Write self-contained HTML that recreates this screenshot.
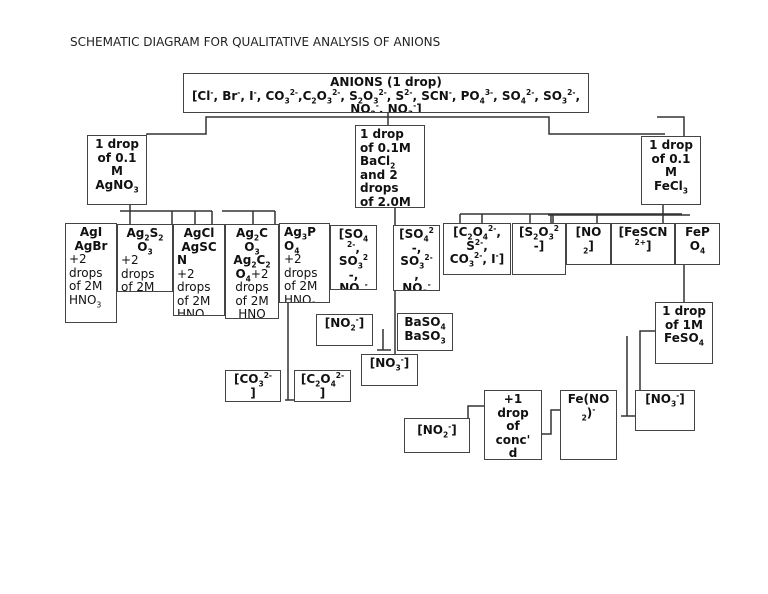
<!DOCTYPE html>
<html><head><meta charset="utf-8"><style>
body{margin:0;width:768px;height:594px;background:#fff;position:relative;overflow:hidden;font-family:"DejaVu Sans","Liberation Sans",sans-serif;}
.b{position:absolute;border:1.5px solid #444;box-sizing:border-box;overflow:hidden;font-size:12px;line-height:13.5px;font-weight:bold;text-align:center;color:#111;padding-top:2px;background:#fff;white-space:nowrap}
.l{text-align:left;padding-left:4px}
.n{font-weight:normal}
sub,sup{font-size:7.5px;line-height:0}
svg{position:absolute;left:0;top:0}
</style></head><body>
<div style="position:absolute;left:70px;top:35px;font-size:12px;color:#222">SCHEMATIC DIAGRAM FOR QUALITATIVE ANALYSIS OF ANIONS</div>
<svg width="768" height="594"><g stroke="#333" stroke-width="1.5" fill="none">
<polyline points="147,135 147,134 206,134 206,117 549,117 549,134 665,134"/>
<polyline points="657,117 684,117 684,136"/>
<line x1="388" y1="113" x2="388" y2="125"/>
<polyline points="130,190 130,224"/>
<line x1="120" y1="211" x2="212" y2="211"/><line x1="172" y1="211" x2="172" y2="224"/><line x1="195" y1="211" x2="195" y2="224"/><line x1="212" y1="211" x2="212" y2="224"/>
<line x1="222" y1="211" x2="275" y2="211"/><line x1="253" y1="211" x2="253" y2="224"/><line x1="275" y1="211" x2="275" y2="224"/>
<line x1="395" y1="208" x2="395" y2="354"/>
<polyline points="663,190 663,223"/>
<line x1="460" y1="214" x2="682" y2="214"/><line x1="460" y1="214" x2="460" y2="223"/><line x1="482" y1="214" x2="482" y2="223"/><line x1="551" y1="214" x2="551" y2="223"/><line x1="597" y1="214" x2="597" y2="223"/><line x1="553" y1="214" x2="553" y2="223"/><line x1="530" y1="214" x2="530" y2="223"/><line x1="548" y1="215" x2="690" y2="215"/>
<line x1="684" y1="265" x2="684" y2="302"/>
<polyline points="288,303 288,400"/><line x1="285" y1="400" x2="295" y2="400"/>
<line x1="383" y1="329" x2="383" y2="350"/><line x1="377" y1="350" x2="391" y2="350"/>
<polyline points="468,418 468,406 484,406"/>
<polyline points="542,434 551,434 551,410 560,410"/>
<polyline points="640,390 640,331 655,331"/>
<line x1="627" y1="336" x2="627" y2="416"/><line x1="621" y1="416" x2="635" y2="416"/>
</g></svg>
<div class="b" style="left:183px;top:73px;width:406px;height:40px">ANIONS (1 drop)<br>[Cl<sup>-</sup>, Br<sup>-</sup>, I<sup>-</sup>, CO<sub>3</sub><sup>2-</sup>,C<sub>2</sub>O<sub>3</sub><sup>2-</sup>, S<sub>2</sub>O<sub>3</sub><sup>2-</sup>, S<sup>2-</sup>, SCN<sup>-</sup>, PO<sub>4</sub><sup>3-</sup>, SO<sub>4</sub><sup>2-</sup>, SO<sub>3</sub><sup>2-</sup>,<br>NO<sub>2</sub><sup>-</sup>, NO<sub>3</sub><sup>-</sup>]</div>
<div class="b" style="left:87px;top:135px;width:60px;height:70px">1 drop<br>of 0.1<br>M<br>AgNO<sub>3</sub></div>
<div class="b l" style="left:355px;top:125px;width:70px;height:83px">1 drop<br>of 0.1M<br>BaCl<sub>2</sub><br>and 2<br>drops<br>of 2.0M</div>
<div class="b" style="left:641px;top:136px;width:60px;height:69px">1 drop<br>of 0.1<br>M<br>FeCl<sub>3</sub></div>
<div class="b" style="left:65px;top:223px;width:52px;height:100px">AgI<br>AgBr<div class="n l" style="padding-left:3px">+2<br>drops<br>of 2M<br>HNO<sub>3</sub></div></div>
<div class="b" style="left:117px;top:224px;width:56px;height:68px">Ag<sub>2</sub>S<sub>2</sub><br>O<sub>3</sub><div class="n l" style="padding-left:3px">+2<br>drops<br>of 2M</div></div>
<div class="b" style="left:173px;top:224px;width:52px;height:92px">AgCl<br>AgSC<br><div class="l" style="padding-left:3px">N</div><div class="n l" style="padding-left:3px">+2<br>drops<br>of 2M<br>HNO</div></div>
<div class="b" style="left:225px;top:224px;width:54px;height:95px">Ag<sub>2</sub>C<br>O<sub>3</sub><br>Ag<sub>2</sub>C<sub>2</sub><br>O<sub>4</sub><span class="n">+2<br>drops<br>of 2M<br>HNO</span></div>
<div class="b l" style="left:279px;top:223px;width:51px;height:80px">Ag<sub>3</sub>P<br>O<sub>4</sub><div class="n">+2<br>drops<br>of 2M<br>HNO<sub>3</sub></div></div>
<div class="b" style="left:330px;top:225px;width:47px;height:65px">[SO<sub>4</sub><br><sup>2-</sup>,<br>SO<sub>3</sub><sup>2</sup><br>-,<br>NO<sub>3</sub><sup>-</sup></div>
<div class="b" style="left:393px;top:225px;width:47px;height:66px">[SO<sub>4</sub><sup>2</sup><br>-,<br>SO<sub>3</sub><sup>2-</sup><br>,<br>NO<sub>3</sub><sup>-</sup></div>
<div class="b" style="left:443px;top:223px;width:68px;height:52px">[C<sub>2</sub>O<sub>4</sub><sup>2-</sup>,<br>S<sup>2-</sup>,<br>CO<sub>3</sub><sup>2-</sup>, I<sup>-</sup>]</div>
<div class="b" style="left:512px;top:223px;width:54px;height:52px">[S<sub>2</sub>O<sub>3</sub><sup>2</sup><br>-]</div>
<div class="b" style="left:566px;top:223px;width:45px;height:42px">[NO<br><sub>2</sub>]</div>
<div class="b" style="left:611px;top:223px;width:64px;height:42px">[FeSCN<br><sup>2+</sup>]</div>
<div class="b" style="left:675px;top:223px;width:45px;height:42px">FeP<br>O<sub>4</sub></div>
<div class="b" style="left:655px;top:302px;width:58px;height:62px">1 drop<br>of 1M<br>FeSO<sub>4</sub></div>
<div class="b" style="left:316px;top:314px;width:57px;height:32px">[NO<sub>2</sub><sup>-</sup>]</div>
<div class="b" style="left:397px;top:313px;width:56px;height:38px">BaSO<sub>4</sub><br>BaSO<sub>3</sub></div>
<div class="b" style="left:361px;top:354px;width:57px;height:32px">[NO<sub>3</sub><sup>-</sup>]</div>
<div class="b" style="left:225px;top:370px;width:56px;height:32px">[CO<sub>3</sub><sup>2-</sup><br>]</div>
<div class="b" style="left:294px;top:370px;width:57px;height:32px">[C<sub>2</sub>O<sub>4</sub><sup>2-</sup><br>]</div>
<div class="b" style="left:404px;top:418px;width:66px;height:35px;padding-top:5px">[NO<sub>2</sub><sup>-</sup>]</div>
<div class="b" style="left:484px;top:390px;width:58px;height:70px">+1<br>drop<br>of<br>conc'<br>d</div>
<div class="b" style="left:560px;top:390px;width:57px;height:70px">Fe(NO<br><sub>2</sub>)<sup>-</sup></div>
<div class="b" style="left:635px;top:390px;width:60px;height:41px">[NO<sub>3</sub><sup>-</sup>]</div>
</body></html>
